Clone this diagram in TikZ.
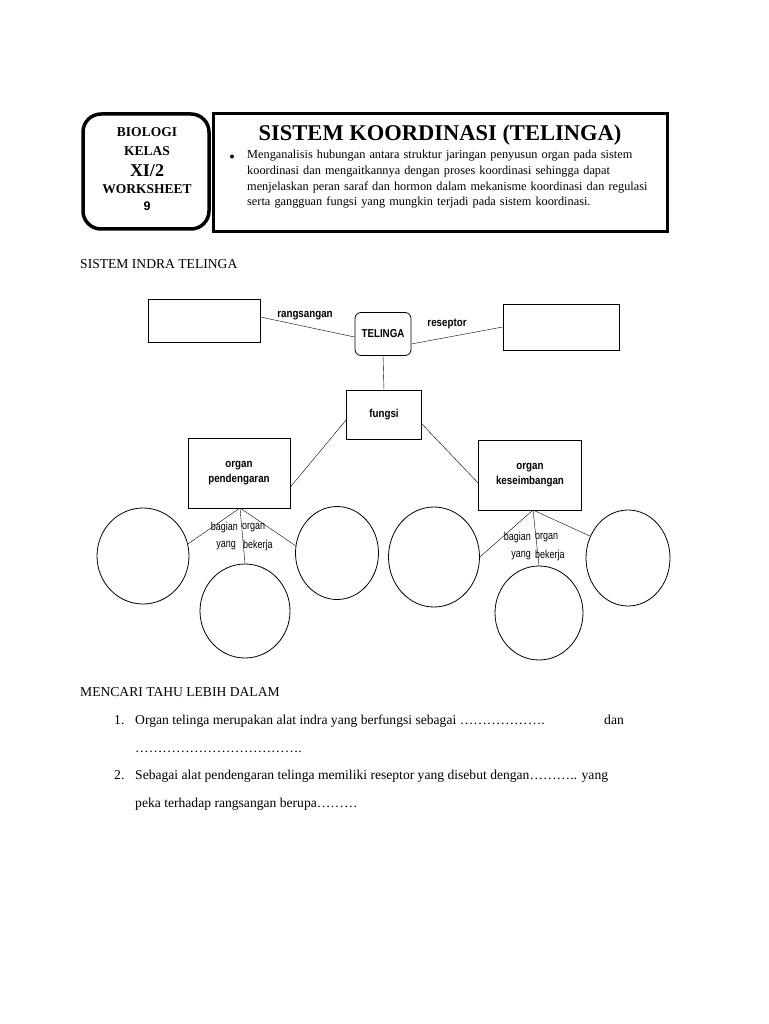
\documentclass[tikz,border=0pt]{standalone}
\usepackage{fontspec}
\usetikzlibrary{shapes.geometric}
\setmainfont{Liberation Serif}
\setsansfont{Liberation Sans}
\newfontfamily\narrowsans[FakeStretch=0.85]{Liberation Sans}
\newfontfamily\narrowersans[FakeStretch=0.78]{Liberation Sans}
\begin{document}
\begin{tikzpicture}[x=1pt,y=-1pt,
  lbl/.style={font=\narrowsans\bfseries\fontsize{11.5}{15}\selectfont,inner sep=0pt},
  sm/.style={font=\narrowersans\fontsize{11.5}{13}\selectfont,inner sep=0pt},
  bx/.style={draw,line width=0.8pt},
  circ/.style={draw,ellipse,line width=0.8pt},
  body/.style={font=\fontsize{13.6}{15}\selectfont,anchor=base west,inner sep=0pt},
  hd/.style={font=\bfseries\fontsize{13.5}{14}\selectfont,inner sep=0pt}]
\useasboundingbox (0,0) rectangle (768,1024);
% header
\draw[line width=3.5pt,rounded corners=18pt] (83,114) rectangle (209,229);
\node[hd] (h1) at (147,132) {BIOLOGI};
\node[hd] (h2) at (147,151) {KELAS};
\node[font=\bfseries\fontsize{18}{18}\selectfont,inner sep=0pt] (h3) at (147,171) {XI/2};
\node[hd] (h4) at (147,189) {WORKSHEET};
\node[font=\sffamily\bfseries\fontsize{12.5}{13}\selectfont,inner sep=0pt] (h5) at (147,206) {9};
\draw[line width=3pt] (213,114) rectangle (667,232);
\node[font=\bfseries\fontsize{22.5}{23}\selectfont,inner sep=0pt] (tt) at (440,135) {SISTEM KOORDINASI (TELINGA)};
\node[inner sep=0pt] (bul) at (232,157) {\fontsize{10}{10}\selectfont$\bullet$};
\node[anchor=north west,inner sep=0pt,text width=420pt,align=left,font=\fontsize{12.3}{15.7}\selectfont] (obj) at (247,150)
 {Menganalisis hubungan antara struktur jaringan penyusun organ pada sistem\\koordinasi dan mengaitkannya dengan proses koordinasi sehingga dapat\\menjelaskan peran saraf dan hormon dalam mekanisme koordinasi dan regulasi\\serta gangguan fungsi yang mungkin terjadi pada sistem koordinasi.};
\node[body] (sit) at (80,268) {SISTEM INDRA TELINGA};
% diagram
\node[bx,minimum width=112pt,minimum height=43pt] (lr) at (204,321) {};
\node[bx,rounded corners=6pt,minimum width=56pt,minimum height=43pt,lbl] (tel) at (383,334) {TELINGA};
\node[bx,minimum width=116pt,minimum height=46pt] (rr) at (561,327) {};
\node[bx,minimum width=75pt,minimum height=49pt,anchor=north,lbl] (fun) at (384,390) {fungsi};
\node[bx,minimum width=102pt,minimum height=70pt,lbl,align=center] (op) at (239,473) {organ\\pendengaran};
\node[bx,minimum width=103pt,minimum height=70pt,lbl,align=center] (ok) at (530,475) {organ\\keseimbangan};
\node[circ,minimum width=92pt,minimum height=96pt] (c1) at (143,556) {};
\node[circ,minimum width=90pt,minimum height=94pt] (c2) at (245,611) {};
\node[circ,minimum width=83pt,minimum height=93pt] (c3) at (337,553) {};
\node[circ,minimum width=91pt,minimum height=100pt] (c4) at (434,557) {};
\node[circ,minimum width=88pt,minimum height=94pt] (c5) at (539,613) {};
\node[circ,minimum width=84pt,minimum height=96pt] (c6) at (628,558) {};
\coordinate (pb) at (240,508);
\coordinate (kb) at (533,510);
\draw (lr.east |- 0,317) -- (tel.west |- 0,337);
\draw (tel.east |- 0,344) -- (rr.west |- 0,327);
\node[lbl] (l1) at (305,316) {rangsangan};
\node[lbl] (l2) at (447,324) {reseptor};
\draw (tel.south) -- (fun.north);
\draw (fun.west |- 0,420) -- (op.east |- 0,487);
\draw (fun.east |- 0,424) -- (ok.west |- 0,483);
\draw (pb) -- (c1.15);
\draw (pb) -- (c2.north);
\draw (pb) -- (c3.170);
\draw (kb) -- (c4.east);
\draw (kb) -- (c5.north);
\draw (kb) -- (c6.150);
\node[sm,anchor=east] (b1) at (238,528) {bagian};
\node[sm,anchor=west] (b2) at (242,528) {organ};
\node[sm,anchor=east] (b3) at (236,546) {yang};
\node[sm,anchor=west] (b4) at (243,546) {bekerja};
\node[sm,anchor=east] (b5) at (531,538) {bagian};
\node[sm,anchor=west] (b6) at (535,538) {organ};
\node[sm,anchor=east] (b7) at (531,556) {yang};
\node[sm,anchor=west] (b8) at (535,556) {bekerja};
% questions
\node[body] (m) at (80,696) {MENCARI TAHU LEBIH DALAM};
\node[body] (n1) at (114,724) {1.};
\node[body] (q1) at (135,724) {Organ telinga merupakan alat indra yang berfungsi sebagai ……………….};
\node[body] (q1b) at (604,724) {dan};
\node[body] (q1c) at (135,752) {……………………………….};
\node[body] (n2) at (114,779) {2.};
\node[body] (q2) at (135,779) {Sebagai alat pendengaran telinga memiliki reseptor yang disebut dengan……….. yang};
\node[body] (q2b) at (135,807) {peka terhadap rangsangan berupa………};
\end{tikzpicture}
\end{document}
